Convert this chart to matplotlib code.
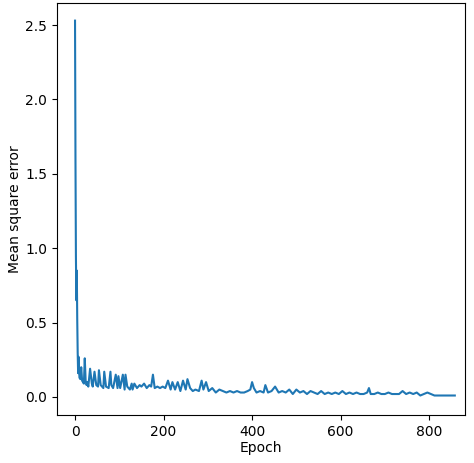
import matplotlib
matplotlib.use('Agg')
import matplotlib.pyplot as plt

# valores (epoca, erro)
epocas = [0, 1, 2, 3, 4, 5, 6, 7, 8, 10, 12, 14, 16, 18, 20, 22, 24, 26, 28, 30,
          34, 38, 40, 44, 48, 52, 54, 58, 64, 66, 70, 76, 80, 82, 86, 92, 96, 98,
          102, 108, 112, 114, 118, 124, 128, 130, 134, 140, 146, 150, 156, 162,
          168, 172, 176, 180, 186, 192, 198, 204, 210, 216, 220, 226, 232, 238,
          244, 250, 254, 260, 266, 272, 280, 286, 290, 296, 302, 310, 318, 326,
          334, 342, 350, 358, 366, 374, 382, 390, 396, 400, 404, 410, 418, 426,
          430, 436, 444, 452, 460, 468, 476, 484, 492, 500, 508, 516, 524, 532,
          540, 548, 556, 564, 572, 580, 588, 596, 604, 612, 620, 628, 636, 644,
          652, 660, 664, 668, 676, 684, 692, 700, 708, 716, 724, 732, 736, 740,
          748, 756, 764, 772, 780, 788, 796, 804, 812, 820, 828, 836, 844, 852, 858]
erro = [2.53, 1.60, 0.95, 0.65, 0.85, 0.52, 0.30, 0.16, 0.27, 0.13, 0.12, 0.20, 0.11, 0.10, 0.09, 0.26, 0.11, 0.08, 0.10, 0.07,
        0.19, 0.09, 0.07, 0.17, 0.08, 0.07, 0.18, 0.08, 0.06, 0.17, 0.07, 0.06, 0.17, 0.08, 0.06, 0.15, 0.06,
        0.14, 0.06, 0.15, 0.05, 0.15, 0.07, 0.05, 0.09, 0.05, 0.09, 0.06, 0.08, 0.07, 0.09, 0.06,
        0.08, 0.07, 0.15, 0.06, 0.07, 0.06, 0.07, 0.06, 0.11, 0.05, 0.10, 0.05, 0.10, 0.04,
        0.11, 0.05, 0.12, 0.06, 0.04, 0.05, 0.04, 0.11, 0.05, 0.10, 0.04, 0.06, 0.03, 0.05,
        0.04, 0.03, 0.04, 0.03, 0.04, 0.03, 0.03, 0.04, 0.05, 0.10, 0.06, 0.03, 0.04, 0.03,
        0.08, 0.03, 0.04, 0.07, 0.03, 0.04, 0.03, 0.05, 0.02, 0.05, 0.03, 0.04, 0.02, 0.04,
        0.03, 0.02, 0.04, 0.02, 0.03, 0.02, 0.03, 0.02, 0.04, 0.02, 0.03, 0.02, 0.03, 0.02,
        0.02, 0.03, 0.06, 0.02, 0.02, 0.03, 0.02, 0.02, 0.03, 0.02, 0.02, 0.02, 0.03, 0.04,
        0.02, 0.03, 0.02, 0.03, 0.01, 0.02, 0.03, 0.02, 0.01, 0.01, 0.01, 0.01, 0.01, 0.01, 0.01]

fig = plt.figure(figsize=(4.74, 4.63), dpi=100)
ax = fig.add_axes([0.120, 0.104, 0.861, 0.890])
ax.plot(epocas, erro, color='#1f77b4', linewidth=1.5)
ax.set_xlabel('Epoch', labelpad=2)
ax.set_ylabel('Mean square error', labelpad=2)
ax.set_xlim(-41, 881)
ax.set_ylim(-0.12, 2.65)
ax.set_xticks([0, 200, 400, 600, 800])
ax.set_yticks([0.0, 0.5, 1.0, 1.5, 2.0, 2.5])
fig.savefig('out.png', dpi=100)
